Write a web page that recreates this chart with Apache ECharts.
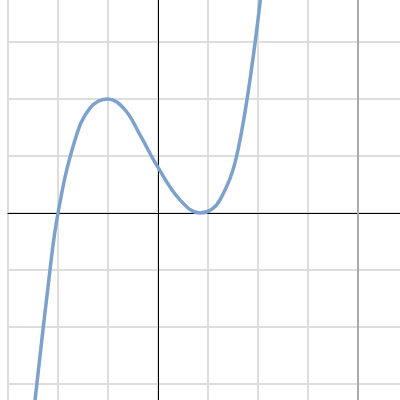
<!DOCTYPE html>
<html>
<head>
<meta charset="utf-8">
<script src="https://cdn.jsdelivr.net/npm/echarts@6/dist/echarts.min.js"></script>
<style>html,body{margin:0;padding:0;background:#fff;overflow:hidden;width:400px;height:400px;position:relative}
#main{width:416px;height:456px;position:absolute;left:0;top:-15px}</style>
</head>
<body>
<div id="main"></div>
<script>
// points
var xs = [-2.5, -2.2, -2, -1.66, -1.36, -1, -0.66, -0.36, 0, 0.44, 0.84, 1.24, 1.64, 2.08];
var ys = [-3.6, -1.3, 0, 1.28, 1.84, 2, 1.81, 1.37, 0.8, 0.23, 0, 0.23, 1.28, 4.0];

var data = xs.map(function(x, i){ return [x, ys[i]]; });
var chart = echarts.init(document.getElementById('main'));
chart.setOption({
    animation: false,
    grid: { left: 8, right: 8, top: 0, bottom: 0 },
    xAxis: {
        type: 'value', min: -3, max: 5, interval: 1,
        axisLine: { onZero: true, lineStyle: { color: '#000', width: 1 } },
        axisTick: { show: false }, axisLabel: { show: false },
        splitLine: { lineStyle: { color: '#ddd', width: 2 } }
    },
    yAxis: {
        type: 'value', min: -4, max: 4, interval: 1,
        axisLine: { onZero: true, lineStyle: { color: '#000', width: 1 } },
        axisTick: { show: false }, axisLabel: { show: false },
        splitLine: { lineStyle: { color: '#ddd', width: 2 } }
    },
    series: [{
        type: 'line', data: data, smooth: 0.4, showSymbol: false,
        lineStyle: { color: '#7ca1cd', width: 3.5 },
        markLine: {
            silent: true, symbol: 'none', label: { show: false },
            lineStyle: { color: '#aaa', type: 'solid', width: 2 },
            data: [{ xAxis: 4 }]
        }
    }]
});
</script>
</body>
</html>
